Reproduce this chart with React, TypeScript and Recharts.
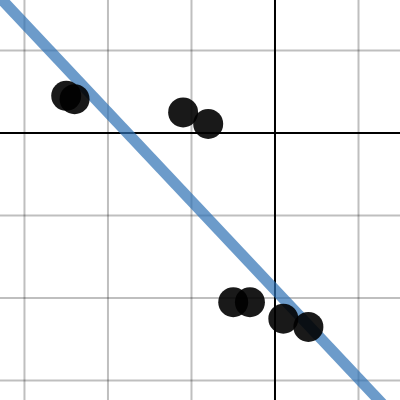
import React from "react";
import { ComposedChart, XAxis, YAxis, Scatter, Line, ReferenceLine } from "recharts";

const pointX = [-2.5, -2.4, -1.1, -0.8, -0.5, -0.3, 0.1, 0.4];
const pointY = [0.45, 0.41, 0.25, 0.11, -2.05, -2.05, -2.25, -2.35];

const fitX = [-3.4, 1.6];
const fitY = [1.755, -3.62];

const gridX = [-3, -2, -1, 1];
const gridY = [1, -1, -2, -3];

const xDomain = [-3.293, 1.497];
const yDomain = [-3.236, 1.612];

const points = pointX.map((x, i) => ({ x, y: pointY[i] }));
const fit = fitX.map((x, i) => ({ x, y: fitY[i] }));

const Dot = (props: any) => (
  <circle cx={props.cx} cy={props.cy} r={15} fill="#000" fillOpacity={0.9} />
);

export default function App() {
  return (
    <div style={{ position: "absolute", left: 0, top: 0, width: 400, height: 400, background: "#fff" }}>
      <ComposedChart width={400} height={400} margin={{ top: 0, right: 0, bottom: 0, left: 0 }}>
        <XAxis type="number" dataKey="x" domain={xDomain} allowDataOverflow hide />
        <YAxis type="number" dataKey="y" domain={yDomain} allowDataOverflow hide />
        {gridX.map((v) => (
          <ReferenceLine key={"gx" + v} x={v} stroke="#000" strokeOpacity={0.25} strokeWidth={2} />
        ))}
        {gridY.map((v) => (
          <ReferenceLine key={"gy" + v} y={v} stroke="#000" strokeOpacity={0.25} strokeWidth={2} />
        ))}
        <ReferenceLine x={0} stroke="#000" strokeWidth={2} />
        <ReferenceLine y={0} stroke="#000" strokeWidth={2} />
        <Scatter data={points} dataKey="y" shape={Dot} isAnimationActive={false} />
        <Line
          data={fit}
          dataKey="y"
          type="linear"
          stroke="#2d70b3"
          strokeOpacity={0.7}
          strokeWidth={11}
          dot={false}
          activeDot={false}
          isAnimationActive={false}
        />
      </ComposedChart>
    </div>
  );
}
